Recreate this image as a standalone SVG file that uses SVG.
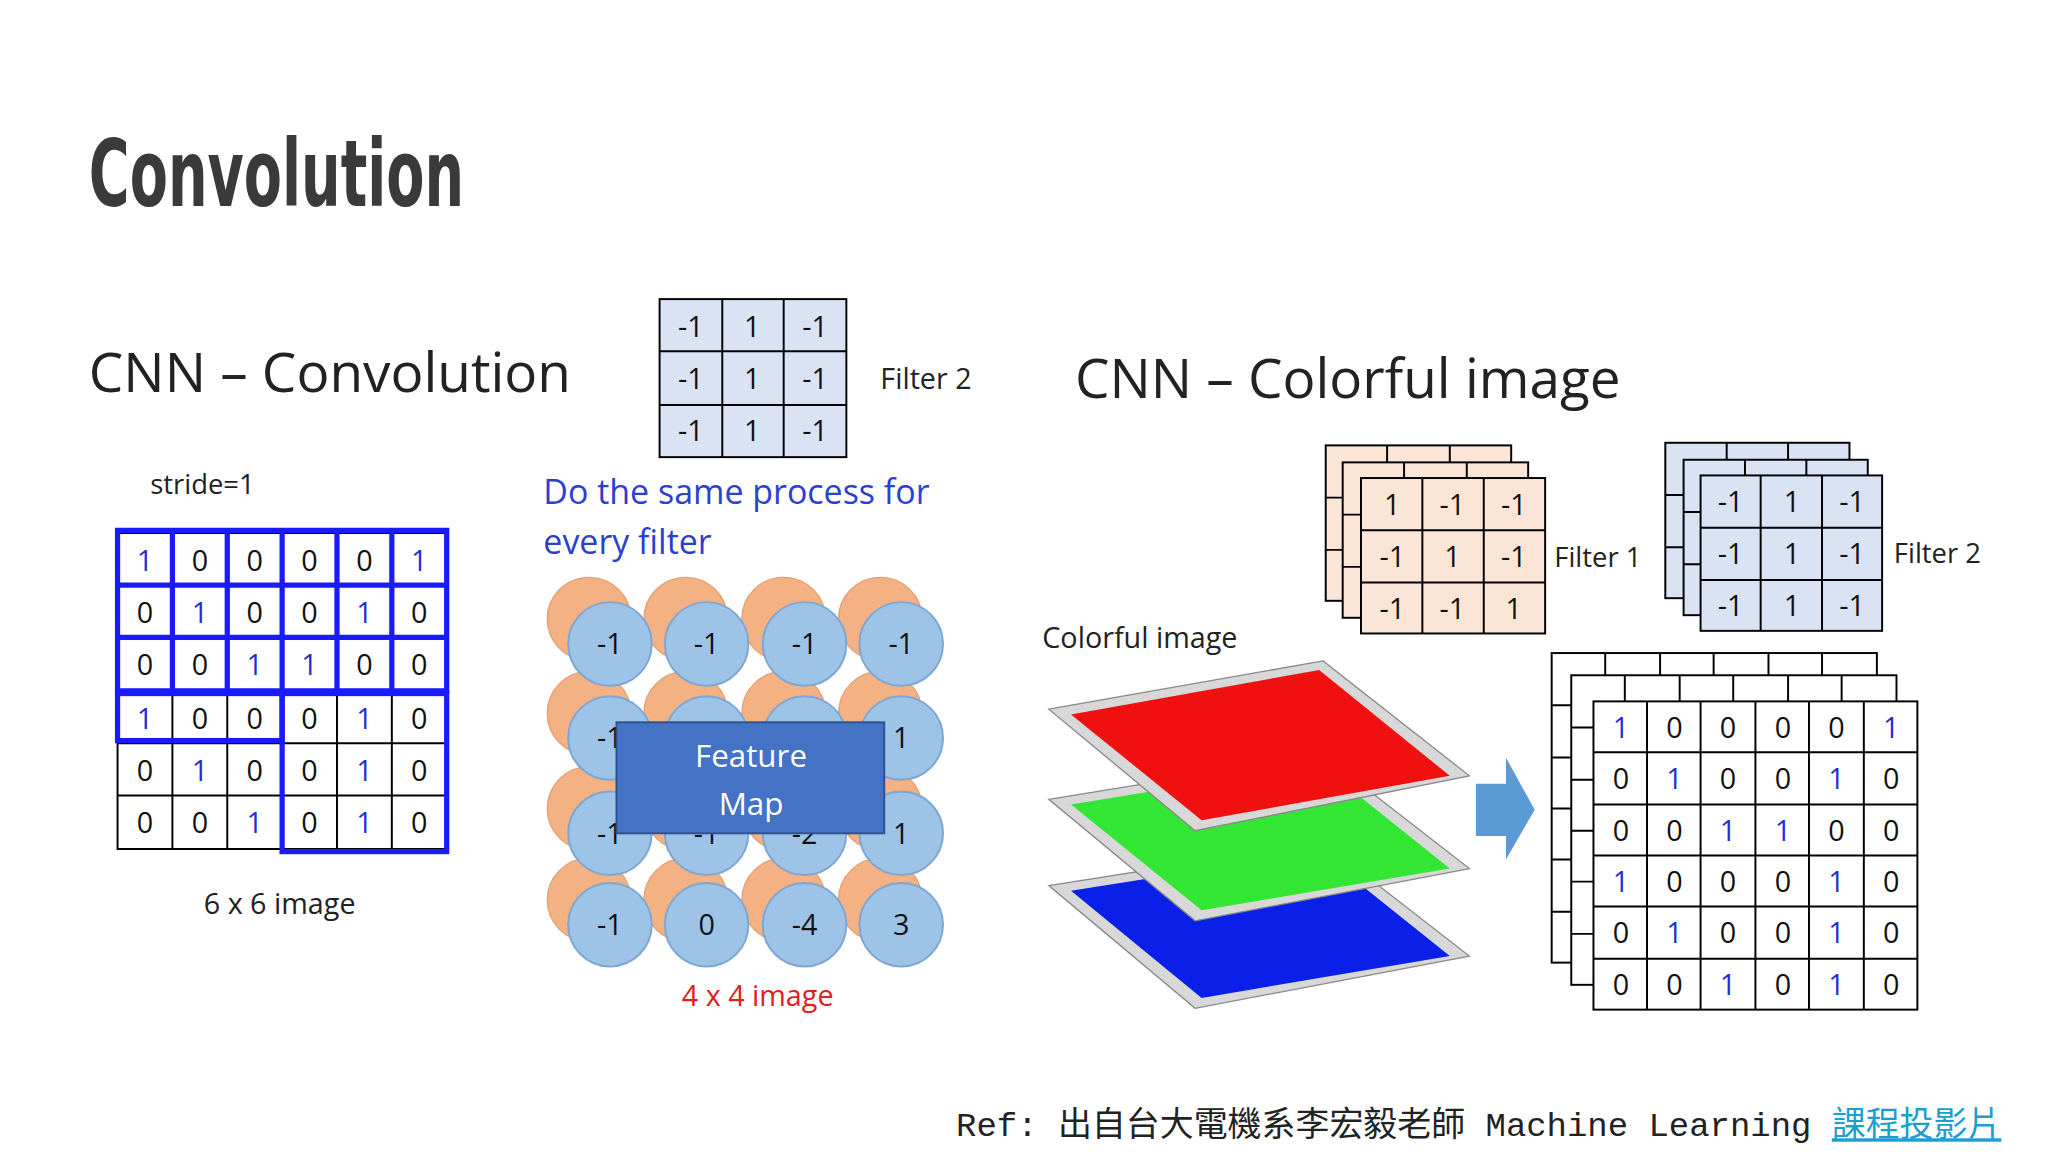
<svg xmlns="http://www.w3.org/2000/svg" width="2048" height="1152" viewBox="0 0 2048 1152">
<style>
.t{font-family:"Open Sans","Liberation Sans",sans-serif;fill:#222}
.c{font-family:"Open Sans","Liberation Sans",sans-serif;font-size:22px;text-anchor:middle;fill:#111}
.b{fill:#1f2fd6}
.g{fill:none;stroke:#000;stroke-width:1.5}
.f1{fill:#fbe5d6;stroke:#000;stroke-width:1.5}
.f2{fill:#dae3f3;stroke:#000;stroke-width:1.5}
.w{fill:#fff;stroke:#000;stroke-width:1.5}
.bl{fill:none;stroke:#1a1aff;stroke-width:4}
.oc{fill:#f4b183;stroke:#e6a070}
.bc{fill:#9dc3e6;stroke:#7ea6d2;stroke-width:1.5}
</style>
<rect width="2048" height="1152" fill="#fff"/>
<g transform="scale(1.30612)">
<text x="68" y="158" font-family="DejaVu Sans Condensed,Liberation Sans,sans-serif" font-size="64" font-weight="bold" fill="#3a3a3a" transform="translate(68 158) scale(0.74 1.1) translate(-68 -158)">Convolution</text>
<text class="t" x="68" y="300" font-size="42">CNN – Convolution</text>
<text class="t" x="823" y="305" font-size="42">CNN – Colorful image</text>

<g id="filter2top">
<rect class="f2" x="505" y="229" width="143" height="121"/>
<path class="g" d="M553 229V350M600 229V350M505 269H648M505 310H648"/>
<text class="c" x="529" y="258">-1</text><text class="c" x="576" y="258">1</text><text class="c" x="624" y="258">-1</text>
<text class="c" x="529" y="298">-1</text><text class="c" x="576" y="298">1</text><text class="c" x="624" y="298">-1</text>
<text class="c" x="529" y="338">-1</text><text class="c" x="576" y="338">1</text><text class="c" x="624" y="338">-1</text>
<text class="t" x="674" y="298" font-size="22">Filter 2</text>
</g>

<g id="image6x6">
<text class="t" x="115" y="378" font-size="21">stride=1</text>
<path class="g" d="M90 408H342V650H90ZM132 408V650M174 408V650M216 408V650M258 408V650M300 408V650M90 448H342M90 488H342M90 529H342M90 569H342M90 609H342"/>
<path class="bl" d="M90 406H342V529H90ZM132 406V529M174 406V529M216 406V529M258 406V529M300 406V529M90 448H342M90 488H342"/>
<rect class="bl" x="90" y="531" width="126" height="36"/>
<rect class="bl" x="216" y="531" width="126" height="121"/>
<g class="c">
<text x="111" y="437" class="b">1</text><text x="153" y="437">0</text><text x="195" y="437">0</text><text x="237" y="437">0</text><text x="279" y="437">0</text><text x="321" y="437" class="b">1</text>
<text x="111" y="477">0</text><text x="153" y="477" class="b">1</text><text x="195" y="477">0</text><text x="237" y="477">0</text><text x="279" y="477" class="b">1</text><text x="321" y="477">0</text>
<text x="111" y="517">0</text><text x="153" y="517">0</text><text x="195" y="517" class="b">1</text><text x="237" y="517" class="b">1</text><text x="279" y="517">0</text><text x="321" y="517">0</text>
<text x="111" y="558" class="b">1</text><text x="153" y="558">0</text><text x="195" y="558">0</text><text x="237" y="558">0</text><text x="279" y="558" class="b">1</text><text x="321" y="558">0</text>
<text x="111" y="598">0</text><text x="153" y="598" class="b">1</text><text x="195" y="598">0</text><text x="237" y="598">0</text><text x="279" y="598" class="b">1</text><text x="321" y="598">0</text>
<text x="111" y="638">0</text><text x="153" y="638">0</text><text x="195" y="638" class="b">1</text><text x="237" y="638">0</text><text x="279" y="638" class="b">1</text><text x="321" y="638">0</text>
</g>
<text class="t" x="156" y="700" font-size="22">6 x 6 image</text>
</g>

<g id="featuremap">
<text x="416" y="386" font-family="Open Sans,Liberation Sans,sans-serif" font-size="26" fill="#2b3fd0">Do the same process for</text>
<text x="416" y="424" font-family="Open Sans,Liberation Sans,sans-serif" font-size="26" fill="#2b3fd0">every filter</text>
<g>
<circle class="oc" cx="451" cy="474" r="32"/><circle class="oc" cx="525" cy="474" r="32"/><circle class="oc" cx="600" cy="474" r="32"/><circle class="oc" cx="674" cy="474" r="32"/>
<circle class="oc" cx="451" cy="546" r="32"/><circle class="oc" cx="525" cy="546" r="32"/><circle class="oc" cx="600" cy="546" r="32"/><circle class="oc" cx="674" cy="546" r="32"/>
<circle class="oc" cx="451" cy="619" r="32"/><circle class="oc" cx="525" cy="619" r="32"/><circle class="oc" cx="600" cy="619" r="32"/><circle class="oc" cx="674" cy="619" r="32"/>
<circle class="oc" cx="451" cy="689" r="32"/><circle class="oc" cx="525" cy="689" r="32"/><circle class="oc" cx="600" cy="689" r="32"/><circle class="oc" cx="674" cy="689" r="32"/>
<circle class="bc" cx="467" cy="493" r="32"/><circle class="bc" cx="541" cy="493" r="32"/><circle class="bc" cx="616" cy="493" r="32"/><circle class="bc" cx="690" cy="493" r="32"/>
<circle class="bc" cx="467" cy="565" r="32"/><circle class="bc" cx="541" cy="565" r="32"/><circle class="bc" cx="616" cy="565" r="32"/><circle class="bc" cx="690" cy="565" r="32"/>
<circle class="bc" cx="467" cy="638" r="32"/><circle class="bc" cx="541" cy="638" r="32"/><circle class="bc" cx="616" cy="638" r="32"/><circle class="bc" cx="690" cy="638" r="32"/>
<circle class="bc" cx="467" cy="708" r="32"/><circle class="bc" cx="541" cy="708" r="32"/><circle class="bc" cx="616" cy="708" r="32"/><circle class="bc" cx="690" cy="708" r="32"/>
</g>
<g class="c">
<text x="467" y="501">-1</text><text x="541" y="501">-1</text><text x="616" y="501">-1</text><text x="690" y="501">-1</text>
<text x="467" y="573">-1</text><text x="690" y="573">1</text>
<text x="467" y="646">-1</text><text x="541" y="646">-1</text><text x="616" y="646">-2</text><text x="690" y="646">1</text>
<text x="467" y="716">-1</text><text x="541" y="716">0</text><text x="616" y="716">-4</text><text x="690" y="716">3</text>
</g>
<rect x="472" y="553" width="205" height="85" fill="#4472c4" stroke="#2f528f" stroke-width="1.5"/>
<text x="575" y="587" font-family="Open Sans,Liberation Sans,sans-serif" font-size="24" fill="#fff" text-anchor="middle">Feature</text>
<text x="575" y="624" font-family="Open Sans,Liberation Sans,sans-serif" font-size="24" fill="#fff" text-anchor="middle">Map</text>
<text x="522" y="770" font-family="Open Sans,Liberation Sans,sans-serif" font-size="22" fill="#e02020">4 x 4 image</text>
</g>

<g id="filter1stack">
<rect class="f1" x="1015" y="341" width="142" height="119"/>
<path class="g" d="M1062 341V354M1110 341V354M1015 381H1028M1015 421H1028"/>
<rect class="f1" x="1028" y="354" width="142" height="119"/>
<path class="g" d="M1075 354V366M1123 354V366M1028 394H1042M1028 434H1042"/>
<rect class="f1" x="1042" y="366" width="141" height="119"/>
<path class="g" d="M1089 366V485M1136 366V485M1042 406H1183M1042 446H1183"/>
<g class="c"><text x="1066" y="394">1</text><text x="1112" y="394">-1</text><text x="1159" y="394">-1</text>
<text x="1066" y="434">-1</text><text x="1112" y="434">1</text><text x="1159" y="434">-1</text>
<text x="1066" y="474">-1</text><text x="1112" y="474">-1</text><text x="1159" y="474">1</text></g>
<text class="t" x="1190" y="434" font-size="21">Filter 1</text>
</g>

<g id="filter2stack">
<rect class="f2" x="1275" y="339" width="141" height="119"/>
<path class="g" d="M1322 339V352M1369 339V352M1275 379H1289M1275 419H1289"/>
<rect class="f2" x="1289" y="352" width="141" height="119"/>
<path class="g" d="M1336 352V364M1383 352V364M1289 392H1302M1289 432H1302"/>
<rect class="f2" x="1302" y="364" width="139" height="119"/>
<path class="g" d="M1348 364V483M1395 364V483M1302 404H1441M1302 444H1441"/>
<g class="c"><text x="1325" y="392">-1</text><text x="1372" y="392">1</text><text x="1418" y="392">-1</text>
<text x="1325" y="432">-1</text><text x="1372" y="432">1</text><text x="1418" y="432">-1</text>
<text x="1325" y="472">-1</text><text x="1372" y="472">1</text><text x="1418" y="472">-1</text></g>
<text class="t" x="1450" y="431" font-size="21">Filter 2</text>
</g>

<g id="colorful">
<text class="t" x="798" y="496" font-size="22">Colorful image</text>
<polygon points="803,678 1013,645 1125,732 915,772" fill="#d8d8d8" stroke="#888"/>
<polygon points="820,682 1010,652 1110,732 920,764" fill="#0a1fe8"/>
<polygon points="803,612 1013,578 1125,665 915,705" fill="#d8d8d8" stroke="#888"/>
<polygon points="820,616 1010,585 1110,665 920,697" fill="#33e633"/>
<polygon points="803,543 1013,506 1125,594 915,636" fill="#d8d8d8" stroke="#888"/>
<polygon points="820,547 1010,513 1110,594 920,628" fill="#f01010"/>
</g>

<g id="arrow">
<polygon points="1130,600 1153,600 1153,580 1175,620 1153,658 1153,640 1130,640" fill="#5b9bd5"/>
</g>

<g id="outstack">
<rect class="w" x="1188" y="500" width="249" height="237"/>
<path class="g" d="M1229 500V517M1271 500V517M1312 500V517M1354 500V517M1395 500V517M1188 540H1203M1188 580H1203M1188 619H1203M1188 658H1203M1188 698H1203"/>
<rect class="w" x="1203" y="517" width="249" height="237"/>
<path class="g" d="M1244 517V537M1286 517V537M1327 517V537M1369 517V537M1410 517V537M1203 557H1220M1203 597H1220M1203 636H1220M1203 675H1220M1203 715H1220"/>
<rect class="w" x="1220" y="537" width="248" height="236"/>
<path class="g" d="M1261 537V773M1302 537V773M1344 537V773M1385 537V773M1427 537V773M1220 576H1468M1220 616H1468M1220 655H1468M1220 694H1468M1220 734H1468"/>
<g class="c">
<text x="1241" y="565" class="b">1</text><text x="1282" y="565">0</text><text x="1323" y="565">0</text><text x="1365" y="565">0</text><text x="1406" y="565">0</text><text x="1448" y="565" class="b">1</text>
<text x="1241" y="604">0</text><text x="1282" y="604" class="b">1</text><text x="1323" y="604">0</text><text x="1365" y="604">0</text><text x="1406" y="604" class="b">1</text><text x="1448" y="604">0</text>
<text x="1241" y="644">0</text><text x="1282" y="644">0</text><text x="1323" y="644" class="b">1</text><text x="1365" y="644" class="b">1</text><text x="1406" y="644">0</text><text x="1448" y="644">0</text>
<text x="1241" y="683" class="b">1</text><text x="1282" y="683">0</text><text x="1323" y="683">0</text><text x="1365" y="683">0</text><text x="1406" y="683" class="b">1</text><text x="1448" y="683">0</text>
<text x="1241" y="722">0</text><text x="1282" y="722" class="b">1</text><text x="1323" y="722">0</text><text x="1365" y="722">0</text><text x="1406" y="722" class="b">1</text><text x="1448" y="722">0</text>
<text x="1241" y="762">0</text><text x="1282" y="762">0</text><text x="1323" y="762" class="b">1</text><text x="1365" y="762">0</text><text x="1406" y="762" class="b">1</text><text x="1448" y="762">0</text>
</g>
</g>

<text x="732" y="870" font-family="Liberation Mono,Noto Sans CJK TC,monospace" font-size="26" fill="#222">Ref: 出自台大電機系李宏毅老師 Machine Learning <tspan fill="#1a9fd0" text-decoration="underline">課程投影片</tspan></text>
</g>
</svg>
